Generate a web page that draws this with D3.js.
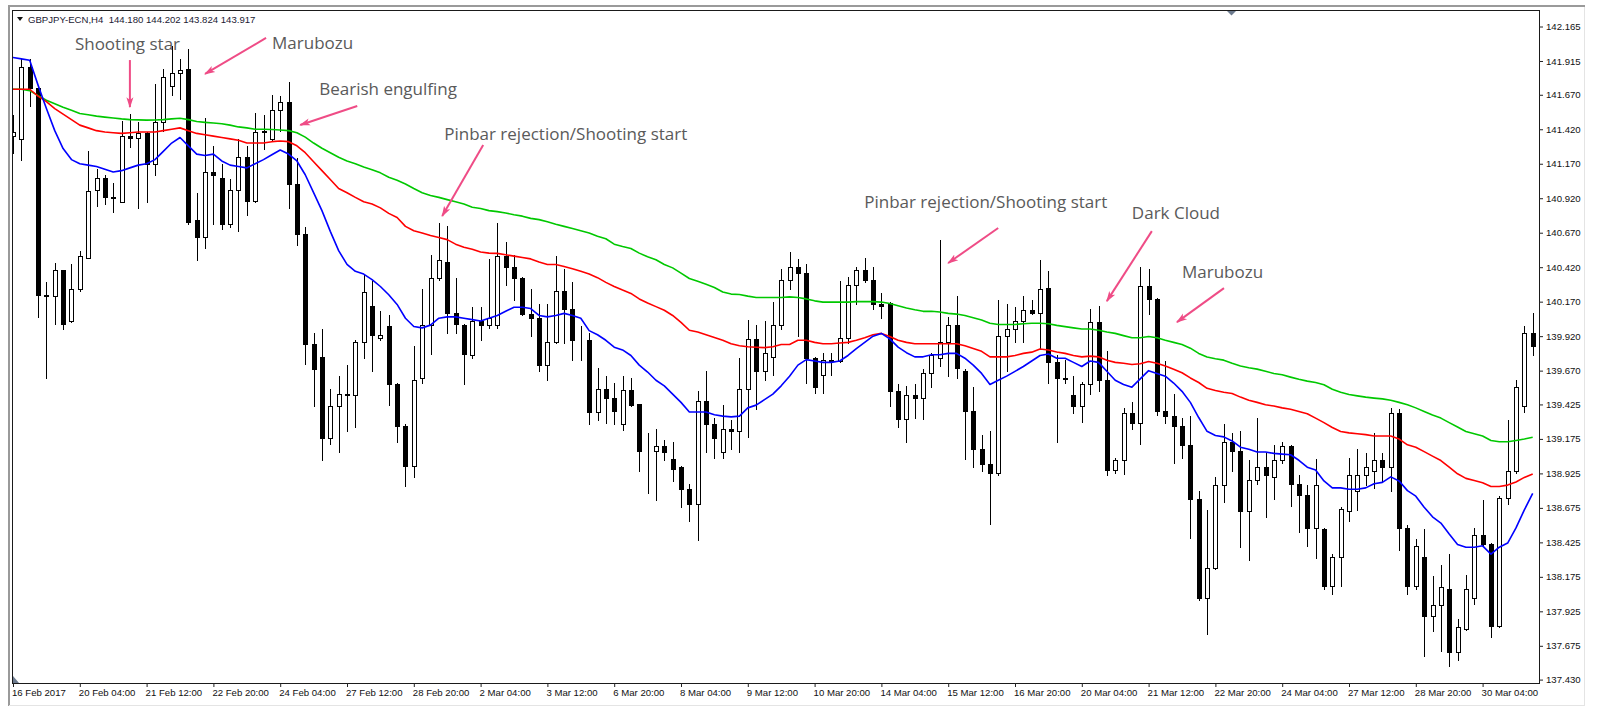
<!DOCTYPE html>
<html><head><meta charset="utf-8">
<script src="https://cdn.jsdelivr.net/npm/d3@7"></script>
<style>
html,body{margin:0;padding:0;background:#fff;}
svg{display:block;}
.ax text{font-family:"Liberation Sans",Arial,sans-serif;font-size:9.6px;fill:#111;}
.ax line{stroke:#222;}
</style></head><body><svg id="c" width="1600" height="720"></svg>
<script>
// ---------------- DATA ----------------
const symbolTitle = "GBPJPY-ECN,H4";
const headerQuotes = ["144.180","144.202","143.824","143.917"];

const open = [
141.37,141.35,141.87,141.72,140.22,140.21,140.40,140.03,140.26,140.49,
140.98,141.07,140.93,140.89,141.37,141.36,141.39,141.17,141.47,141.73,
141.83,141.86,140.76,140.64,141.11,141.07,140.73,140.98,141.22,140.90,
141.40,141.35,141.56,141.62,141.02,140.66,139.86,139.77,139.18,139.41,
139.50,139.49,139.88,140.14,139.91,139.99,139.57,139.27,138.98,139.62,
140.00,140.34,140.46,140.09,140.00,139.78,140.03,140.00,140.00,140.50,
140.42,140.34,140.08,140.05,139.71,139.88,140.25,140.12,139.89,139.89,
139.37,139.54,139.47,139.28,139.53,139.43,139.09,139.09,139.12,139.03,
138.97,138.81,138.70,139.45,139.28,139.08,139.25,139.23,139.54,139.90,
139.67,139.77,140.00,140.33,140.42,140.38,139.76,139.64,139.75,139.74,
139.91,140.29,140.40,140.33,140.15,140.16,139.52,139.32,139.49,139.47,
139.65,139.76,139.88,140.00,139.67,139.38,139.10,138.99,138.93,139.92,
139.97,140.03,140.11,140.09,140.27,139.73,139.62,139.49,139.41,139.57,
140.02,139.60,138.95,139.02,139.36,139.29,140.28,140.19,139.38,139.34,
139.27,139.13,138.74,138.02,138.24,138.84,139.15,139.09,138.65,138.88,
138.97,138.90,139.02,139.12,138.85,138.77,138.53,138.52,138.11,138.32,
138.65,138.80,138.91,138.94,139.02,138.97,139.36,138.53,138.11,138.32,
137.89,137.97,138.09,137.63,137.80,138.02,138.48,138.41,137.82,138.75,
138.94,139.41,139.94];

const high = [
141.52,141.93,141.93,141.73,140.31,140.45,140.40,140.44,140.54,141.26,
141.13,141.09,141.03,141.48,141.53,141.47,141.40,141.75,141.86,142.02,
141.93,142.00,140.96,141.50,141.30,141.17,141.06,141.35,141.30,141.54,
141.52,141.67,141.66,141.76,141.21,140.71,139.94,139.97,139.54,139.63,
139.71,139.89,140.37,140.32,140.10,140.07,139.58,139.28,139.85,140.26,
140.51,140.74,140.72,140.34,140.01,140.13,140.13,140.48,140.74,140.60,
140.51,140.35,140.26,140.15,140.15,140.50,140.41,140.31,139.99,139.94,
139.69,139.63,139.58,139.63,139.62,139.43,139.22,139.25,139.17,139.15,
138.98,138.85,139.52,139.67,139.33,139.42,139.31,139.76,140.04,140.00,
140.03,140.17,140.41,140.53,140.48,140.44,139.77,139.80,139.80,140.32,
140.35,140.42,140.49,140.42,140.23,140.17,139.57,139.56,139.57,139.68,
139.80,140.62,140.06,140.21,139.68,139.55,139.20,139.23,140.18,140.15,
140.13,140.21,140.18,140.47,140.39,139.78,139.75,139.63,139.59,140.12,
140.14,139.81,139.04,139.40,139.44,140.42,140.41,140.20,139.74,139.50,
139.33,139.34,138.80,138.66,138.90,139.28,139.22,139.23,139.02,139.33,
139.07,139.13,139.15,139.13,138.91,138.84,139.03,138.53,138.34,138.68,
139.04,139.10,139.07,139.22,139.07,139.40,139.39,138.55,138.45,138.52,
138.18,138.26,138.34,137.87,138.19,138.53,138.73,138.42,138.76,139.31,
139.60,139.99,140.09];

const low = [
141.25,141.20,141.59,140.06,139.62,140.01,139.97,140.02,140.25,140.49,
140.86,140.88,140.82,140.89,141.29,140.85,140.89,141.09,141.41,141.67,
141.64,140.73,140.47,140.56,140.73,140.70,140.71,140.68,140.80,140.89,
141.28,141.34,141.41,140.85,140.58,139.72,139.41,139.02,139.14,139.08,
139.23,139.26,139.76,139.67,139.89,139.42,139.15,138.83,138.90,139.58,
139.79,140.33,139.94,139.94,139.57,139.76,139.89,139.98,139.98,140.29,
140.18,140.07,139.92,139.67,139.60,139.87,139.87,139.75,139.75,139.28,
139.31,139.29,139.28,139.24,139.41,138.94,138.78,138.73,139.02,138.87,
138.68,138.58,138.44,139.08,139.04,139.04,139.10,139.08,139.19,139.39,
139.60,139.64,139.97,140.26,139.92,139.58,139.51,139.51,139.64,139.73,
139.87,140.15,140.31,140.12,140.05,139.41,139.26,139.15,139.33,139.32,
139.55,139.70,139.63,139.62,139.03,138.97,138.94,138.56,138.91,139.67,
139.88,139.88,140.08,139.83,139.58,139.15,139.58,139.36,139.30,139.50,
139.52,138.91,138.93,138.92,139.25,139.14,140.08,139.35,139.29,139.00,
139.04,138.46,138.01,137.76,138.23,138.72,138.94,138.39,138.30,138.85,
138.61,138.74,139.00,138.69,138.50,138.40,138.31,138.09,138.05,138.11,
138.58,138.66,138.84,138.82,138.87,138.80,138.37,138.05,138.09,137.60,
137.78,137.64,137.53,137.57,137.79,137.98,138.40,137.74,137.81,138.70,
138.93,139.37,139.78];

const close = [
141.40,141.87,141.72,140.22,140.21,140.40,140.01,140.26,140.50,140.97,
141.07,140.93,140.92,141.37,141.36,141.39,141.17,141.47,141.80,141.83,
141.85,140.75,140.64,141.11,141.09,140.73,140.98,141.22,140.90,141.40,
141.41,141.56,141.62,141.02,140.66,139.86,139.68,139.18,139.41,139.50,
139.49,139.88,140.24,139.93,139.93,139.57,139.27,138.98,139.60,140.00,
140.34,140.47,140.09,140.01,139.79,140.03,140.00,140.05,140.50,140.42,
140.34,140.08,140.05,139.71,139.88,140.25,140.12,139.89,139.89,139.37,
139.54,139.47,139.38,139.53,139.42,139.09,139.09,139.12,139.08,138.96,
138.81,138.70,139.45,139.28,139.18,139.25,139.23,139.54,139.90,139.67,
139.80,140.00,140.33,140.42,140.38,139.76,139.55,139.75,139.74,139.91,
140.29,140.40,140.33,140.15,140.14,139.52,139.32,139.49,139.47,139.65,
139.78,139.88,140.00,139.69,139.38,139.10,138.99,138.93,139.92,139.97,
140.03,140.11,140.09,140.26,139.73,139.62,139.61,139.41,139.57,140.02,
139.60,138.95,139.02,139.36,139.29,140.28,140.19,139.38,139.34,139.27,
139.13,138.74,138.02,138.24,138.84,139.15,139.09,138.65,138.88,138.97,
138.91,139.02,139.12,138.85,138.77,138.53,138.84,138.11,138.32,138.67,
138.91,138.91,138.97,139.02,138.97,139.36,138.53,138.11,138.40,137.89,
137.97,138.10,137.63,137.81,138.09,138.48,138.41,137.82,138.75,138.94,
139.55,139.94,139.85];

// moving averages (one value per bar)
const maBlue = [
141.94,141.93,141.92,141.74,141.57,141.41,141.28,141.20,141.17,141.16,
141.15,141.13,141.11,141.12,141.14,141.16,141.17,141.20,141.26,141.32,
141.36,141.30,141.24,141.23,141.24,141.19,141.16,141.15,141.14,141.17,
141.20,141.235,141.27,141.24,141.19,141.09,140.96,140.83,140.68,140.54,
140.44,140.39,140.37,140.33,140.28,140.22,140.15,140.05,139.99,139.98,
140.00,140.05,140.06,140.06,140.05,140.04,140.03,140.05,140.07,140.10,
140.13,140.13,140.12,140.07,140.06,140.07,140.085,140.07,140.05,139.96,
139.93,139.89,139.84,139.82,139.78,139.71,139.66,139.60,139.56,139.50,
139.44,139.37,139.37,139.37,139.35,139.34,139.335,139.34,139.40,139.42,
139.46,139.50,139.56,139.63,139.71,139.75,139.74,139.73,139.73,139.74,
139.78,139.83,139.875,139.92,139.94,139.90,139.84,139.80,139.77,139.77,
139.785,139.785,139.795,139.795,139.76,139.71,139.65,139.57,139.60,139.63,
139.665,139.70,139.74,139.78,139.79,139.76,139.76,139.73,139.70,139.74,
139.73,139.665,139.60,139.57,139.55,139.61,139.67,139.65,139.63,139.58,
139.52,139.44,139.33,139.23,139.20,139.19,139.16,139.115,139.10,139.08,
139.08,139.07,139.065,139.06,139.02,138.97,138.95,138.87,138.82,138.82,
138.81,138.81,138.82,138.85,138.86,138.90,138.87,138.80,138.76,138.68,
138.61,138.565,138.485,138.41,138.39,138.39,138.40,138.34,138.39,138.42,
138.53,138.66,138.78];

const maRed = [
141.71,141.71,141.71,141.66,141.62,141.57,141.53,141.49,141.45,141.43,
141.41,141.40,141.395,141.39,141.395,141.40,141.40,141.40,141.41,141.42,
141.43,141.41,141.39,141.38,141.37,141.36,141.35,141.34,141.32,141.32,
141.32,141.33,141.335,141.33,141.30,141.25,141.185,141.12,141.056,140.99,
140.96,140.926,140.894,140.878,140.85,140.81,140.78,140.716,140.684,140.668,
140.65,140.635,140.62,140.587,140.564,140.55,140.53,140.522,140.52,140.51,
140.50,140.49,140.48,140.458,140.44,140.44,140.425,140.409,140.39,140.37,
140.344,140.31,140.28,140.254,140.23,140.19,140.16,140.134,140.108,140.07,
140.02,139.963,139.95,139.93,139.91,139.89,139.865,139.85,139.843,139.84,
139.837,139.843,139.86,139.86,139.89,139.89,139.875,139.865,139.865,139.87,
139.875,139.89,139.908,139.93,139.94,139.917,139.89,139.875,139.865,139.865,
139.865,139.865,139.865,139.865,139.85,139.83,139.81,139.77,139.77,139.77,
139.78,139.795,139.804,139.827,139.82,139.805,139.795,139.78,139.77,139.775,
139.77,139.746,139.73,139.723,139.714,139.72,139.736,139.723,139.704,139.68,
139.655,139.617,139.584,139.542,139.526,139.513,139.504,139.478,139.455,139.44,
139.423,139.413,139.40,139.39,139.374,139.358,139.326,139.293,139.258,139.229,
139.219,139.212,139.206,139.196,139.196,139.196,139.174,139.132,139.115,139.083,
139.05,139.018,138.97,138.922,138.889,138.873,138.857,138.83,138.83,138.84,
138.863,138.896,138.921];

const maGreen = [
141.71,141.71,141.70,141.664,141.63,141.605,141.58,141.557,141.534,141.525,
141.515,141.508,141.502,141.495,141.49,141.488,141.486,141.487,141.49,141.495,
141.50,141.49,141.476,141.47,141.465,141.46,141.45,141.437,141.43,141.42,
141.42,141.418,141.415,141.41,141.395,141.363,141.32,141.282,141.25,141.217,
141.19,141.17,141.146,141.127,141.104,141.072,141.05,141.023,140.99,140.96,
140.94,140.926,140.91,140.894,140.878,140.855,140.846,140.83,140.823,140.813,
140.80,140.79,140.774,140.765,140.75,140.732,140.716,140.70,140.684,140.668,
140.645,140.626,140.587,140.57,140.555,140.522,140.496,140.474,140.44,140.415,
140.377,140.338,140.318,140.296,140.273,140.24,140.225,140.222,140.21,140.20,
140.20,140.20,140.20,140.205,140.20,140.19,140.176,140.167,140.167,140.167,
140.167,140.17,140.17,140.17,140.167,140.157,140.14,140.124,140.111,140.10,
140.10,140.095,140.085,140.08,140.07,140.053,140.037,140.014,140.005,140.005,
140.005,140.01,140.014,140.014,140.01,139.998,139.989,139.98,139.972,139.972,
139.963,139.95,139.94,139.924,139.908,139.908,139.917,139.908,139.89,139.875,
139.86,139.833,139.795,139.769,139.756,139.746,139.723,139.704,139.691,139.681,
139.665,139.649,139.64,139.623,139.607,139.594,139.584,139.568,139.535,139.513,
139.497,139.487,139.478,139.471,139.465,139.455,139.44,139.423,139.40,139.374,
139.348,139.326,139.293,139.261,139.229,139.212,139.196,139.164,139.154,139.154,
139.164,139.174,139.187];

const yTickLabels = ["142.165","141.915","141.670","141.420","141.170","140.920","140.670",
 "140.420","140.170","139.920","139.670","139.425","139.175","138.925","138.675",
 "138.425","138.175","137.925","137.675","137.430"];
const xTickLabels = ["16 Feb 2017","20 Feb 04:00","21 Feb 12:00","22 Feb 20:00","24 Feb 04:00",
 "27 Feb 12:00","28 Feb 20:00","2 Mar 04:00","3 Mar 12:00","6 Mar 20:00","8 Mar 04:00",
 "9 Mar 12:00","10 Mar 20:00","14 Mar 04:00","15 Mar 12:00","16 Mar 20:00","20 Mar 04:00",
 "21 Mar 12:00","22 Mar 20:00","24 Mar 04:00","27 Mar 12:00","28 Mar 20:00","30 Mar 04:00"];
const xTickBars = xTickLabels.map((d,i)=>i*8);

// annotations: text, arrow tip (bar index, price)
const annTexts = ["Shooting star","Marubozu","Bearish engulfing","Pinbar rejection/Shooting start",
 "Pinbar rejection/Shooting start","Dark Cloud","Marubozu"];
const annBars = [14.0, 23.0, 34.4, 51.4, 112.0, 131.0, 139.4];
const annPrices = [141.581, 141.821, 141.451, 140.791, 140.45, 140.174, 140.022];

// ---------------- LAYOUT ----------------
const annLayout = [ // tail offset from tip, label start offset from tip
 {tx:0,ty:-47, lx:-55,ly:-64},
 {tx:61,ty:-36, lx:67,ly:-31},
 {tx:57,ty:-19, lx:19,ly:-36},
 {tx:41,ty:-71, lx:2,ly:-83},
 {tx:50,ty:-35, lx:-84,ly:-62},
 {tx:45,ty:-70, lx:25,ly:-89},
 {tx:47,ty:-34, lx:5,ly:-51}
];

const svg = d3.select("#c");
const x = d3.scaleLinear().domain([0,182]).range([13,1532.7]);
const y = d3.scaleLinear().domain([137.43,142.165]).range([679.6,26.5]);
const P = {l:12.5,t:10.5,r:1539.5,b:683.5};

// window frame
svg.append("rect").attr("x",0).attr("y",0).attr("width",1600).attr("height",720).attr("fill","#fff");
svg.append("line").attr("x1",8).attr("x2",1585).attr("y1",6).attr("y2",6).attr("stroke","#9a9a9a").attr("stroke-width",2);
svg.append("line").attr("x1",9).attr("x2",9).attr("y1",6).attr("y2",706).attr("stroke","#9a9a9a").attr("stroke-width",2);
svg.append("line").attr("x1",1584.5).attr("x2",1584.5).attr("y1",7).attr("y2",706).attr("stroke","#e4e4e4").attr("stroke-width",1);
svg.append("line").attr("x1",9).attr("x2",1585).attr("y1",705.5).attr("y2",705.5).attr("stroke","#e4e4e4").attr("stroke-width",1);

// plot border
svg.append("rect").attr("x",P.l).attr("y",P.t).attr("width",P.r-P.l).attr("height",P.b-P.t)
  .attr("fill","#fff").attr("stroke","#1a1a1a").attr("stroke-width",1);

const defs = svg.append("defs");
defs.append("clipPath").attr("id","clip").append("rect")
  .attr("x",P.l+0.5).attr("y",P.t+0.5).attr("width",P.r-P.l-1).attr("height",P.b-P.t-1);
defs.append("marker").attr("id","ah").attr("viewBox","0 0 10 10").attr("refX",9).attr("refY",5)
  .attr("markerWidth",11).attr("markerHeight",11).attr("markerUnits","userSpaceOnUse").attr("orient","auto")
  .append("path").attr("d","M0,1.8L10,5L0,8.2L2.5,5Z").attr("fill","#ef4c86");

// axes
const yAxis = d3.axisRight(y).tickValues(yTickLabels.map(Number)).tickFormat((d,i)=>yTickLabels[i])
  .tickSize(4).tickPadding(3);
const gy = svg.append("g").attr("class","ax").attr("transform","translate(1539,0)").call(yAxis);
gy.select(".domain").remove();

const xAxis = d3.axisBottom(x).tickValues(xTickBars).tickFormat((d,i)=>xTickLabels[i])
  .tickSize(4).tickPadding(2);
const gx = svg.append("g").attr("class","ax").attr("transform","translate(0,683)").call(xAxis);
gx.select(".domain").remove();
gx.selectAll("text").attr("text-anchor","start").attr("dx",-1.5);

// header
svg.append("path").attr("d","M17,17L23,17L20,21Z").attr("fill","#111");
svg.append("text").attr("x",28).attr("y",22.5).style("white-space","pre")
  .attr("font-family","Liberation Sans, Arial, sans-serif").attr("font-size",9.6).attr("fill","#1a1a33")
  .text(symbolTitle + "  " + headerQuotes.join(" "));

// markers
svg.append("path").attr("d","M1227,11L1236,11L1231.5,15.5Z").attr("fill","#6c7a8e");
svg.append("path").attr("d","M13,676L13,683L19,683Z").attr("fill","#6c7a8e");

// candles
const bars = d3.range(open.length).map(i=>({i,o:open[i],h:high[i],l:low[i],c:close[i]}));
const gc = svg.append("g").attr("clip-path","url(#clip)");
gc.selectAll("line.w").data(bars).join("line").attr("class","w")
  .attr("x1",d=>Math.round(x(d.i))+0.5).attr("x2",d=>Math.round(x(d.i))+0.5)
  .attr("y1",d=>Math.round(y(d.h))).attr("y2",d=>Math.round(y(d.l))+1)
  .attr("stroke","#000").attr("stroke-width",1);
gc.selectAll("rect.b").data(bars).join("rect").attr("class","b")
  .attr("x",d=>Math.round(x(d.i))-1.5)
  .attr("y",d=>Math.round(y(Math.max(d.o,d.c)))+0.5)
  .attr("width",4)
  .attr("height",d=>Math.max(Math.round(y(Math.min(d.o,d.c)))-Math.round(y(Math.max(d.o,d.c))),0))
  .attr("fill",d=>d.c>=d.o?"#fff":"#000")
  .attr("stroke","#000").attr("stroke-width",1);

// moving averages
const line = d3.line().x((d,i)=>x(i)).y(d=>y(d));
[[maGreen,"#00c800"],[maRed,"#ff0000"],[maBlue,"#0000ff"]].forEach(([s,col])=>{
  gc.append("path").datum(s).attr("d",line).attr("fill","none").attr("stroke",col)
    .attr("stroke-width",1.6).attr("stroke-linejoin","round");
});

// annotations
annTexts.forEach((t,k)=>{
  const tx = x(annBars[k]), ty = y(annPrices[k]);
  const L = annLayout[k];
  svg.append("line").attr("x1",tx+L.tx).attr("y1",ty+L.ty).attr("x2",tx).attr("y2",ty)
    .attr("stroke","#ef4c86").attr("stroke-width",2).attr("marker-end","url(#ah)");
  svg.append("text").attr("x",tx+L.lx).attr("y",ty+L.ly).attr("dominant-baseline","central")
    .attr("font-family","Open Sans, sans-serif").attr("font-size",17).attr("fill","#5a5a5a")
    .text(t);
});
</script></body></html>
